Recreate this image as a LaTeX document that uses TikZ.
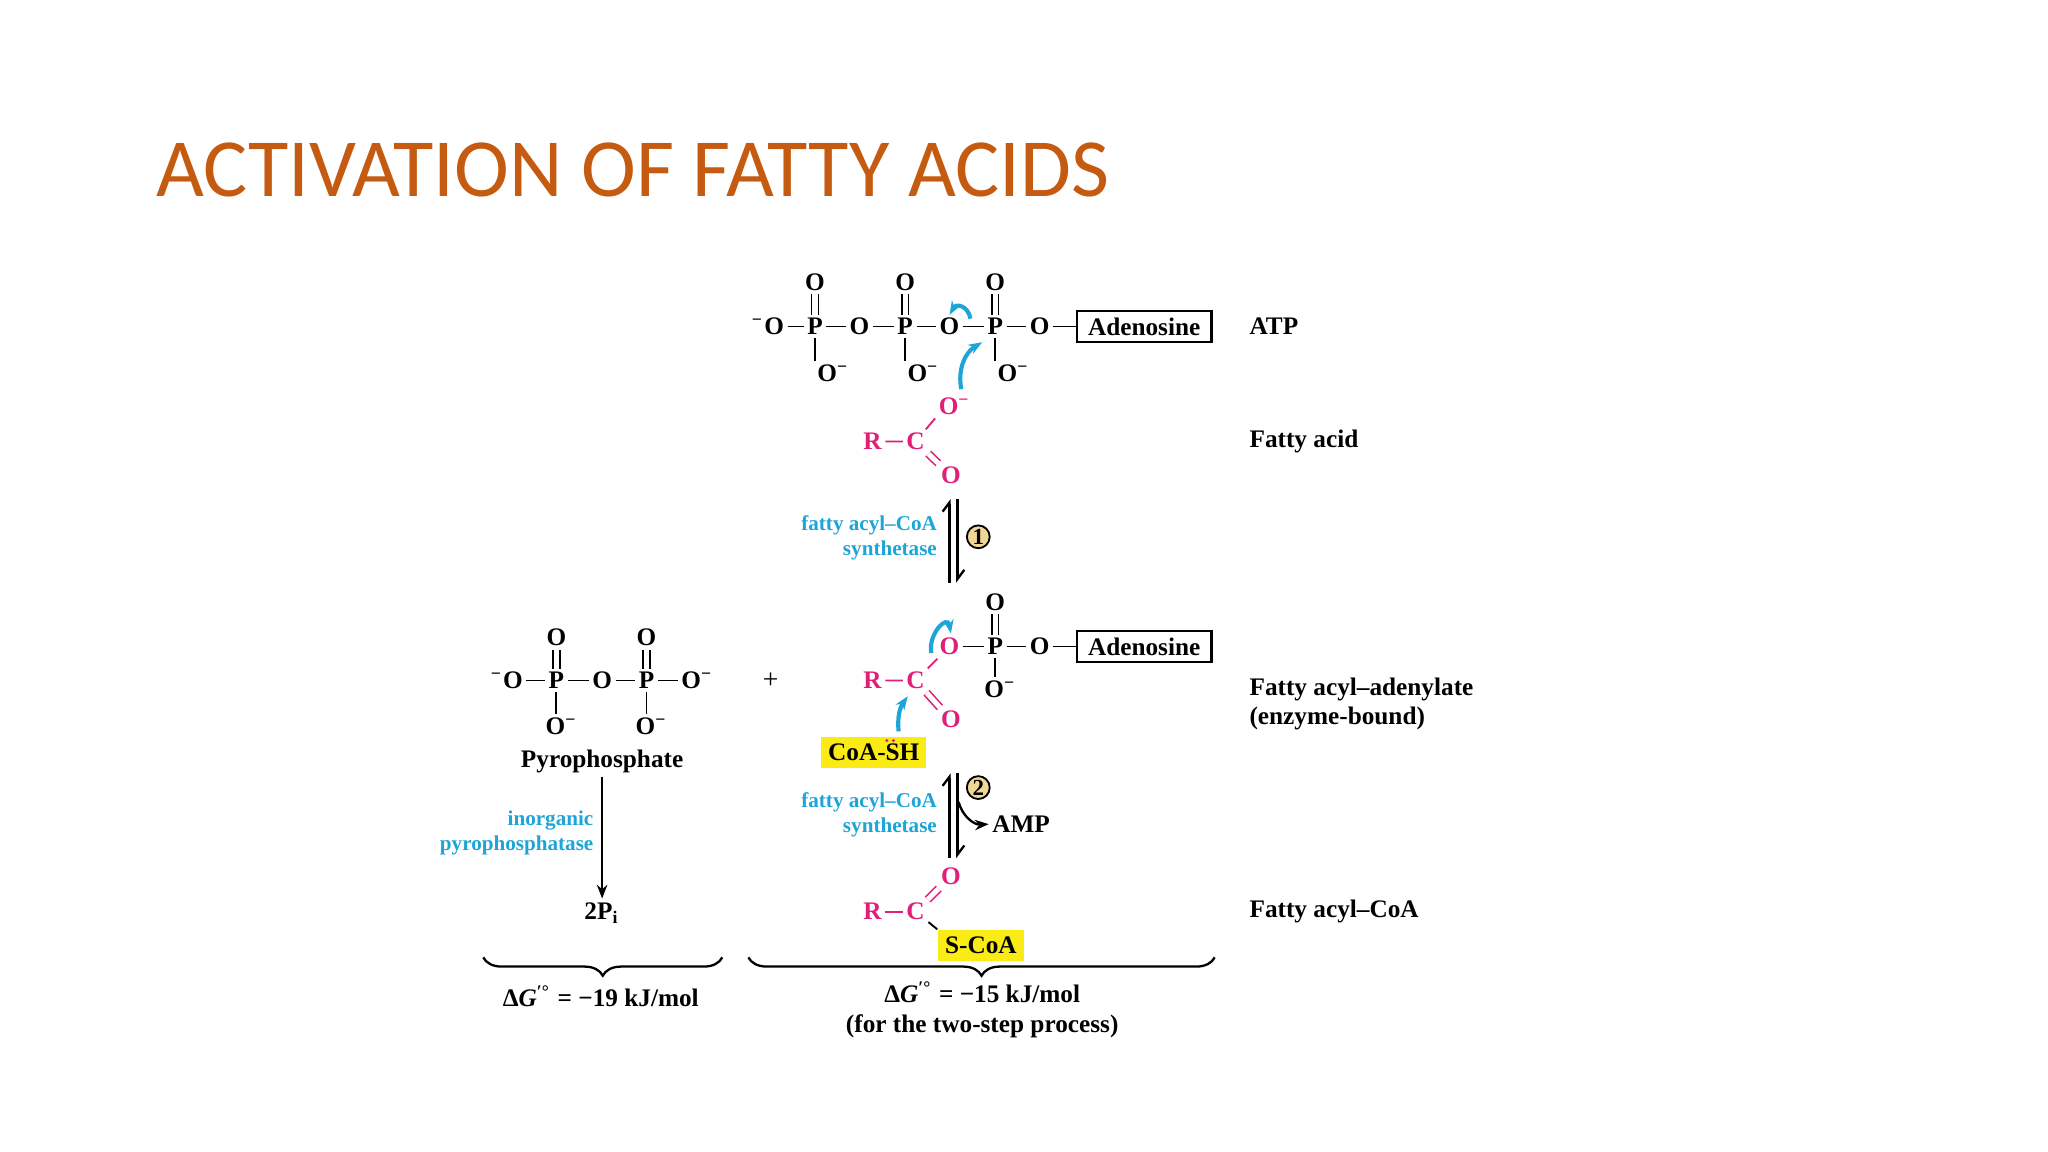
\documentclass[tikz,border=0pt]{standalone}
\usepackage{fontspec}
\setmainfont{Liberation Serif}
\newfontfamily\titlefont{Carlito}
\usetikzlibrary{decorations.pathreplacing,arrows.meta}
\definecolor{ttl}{RGB}{197,90,17}
\definecolor{pk}{RGB}{225,30,120}
\definecolor{cy}{RGB}{30,165,215}
\definecolor{yl}{RGB}{250,235,20}
\definecolor{tan}{RGB}{240,215,150}
\newcommand{\mn}{\textsuperscript{−}}
\tikzset{
 atm/.style={inner sep=0.6pt,font=\fontsize{5.5}{6.5}\bfseries\selectfont},
 pat/.style={atm,text=pk},
 lbl/.style={font=\fontsize{5.5}{6.5}\bfseries\selectfont,anchor=west,align=left,inner sep=0pt},
 enz/.style={font=\fontsize{4.6}{5.4}\bfseries\selectfont,text=cy,align=right,anchor=east,inner sep=0pt},
 bd/.style={line width=0.4pt},
 pbd/.style={line width=0.4pt,pk},
 dbl/.style={double,double distance=1.1pt,line width=0.35pt},
 carr/.style={cy,line width=0.9pt,-{Stealth[length=3pt]}},
 harp/.style={line width=0.5pt,-{Straight Barb[left,length=2pt,width=3pt]}},
 box/.style={draw,line width=0.5pt,inner sep=1.5pt,minimum width=1.03cm,font=\fontsize{5.5}{6.5}\bfseries\selectfont},
 ybox/.style={fill=yl,inner sep=1.5pt,font=\fontsize{5.5}{6.5}\bfseries\selectfont},
 circ/.style={circle,draw,fill=tan,inner sep=0.3pt,font=\fontsize{5}{6}\bfseries\selectfont}
}
\begin{document}
\begin{tikzpicture}[x=0.01cm,y=-0.01cm]
\useasboundingbox (0,0) rectangle (1568,882);
\node[anchor=west,text=ttl,font=\titlefont\fontsize{18}{21}\selectfont,inner sep=0pt] (title) at (119,130) {ACTIVATION OF FATTY ACIDS};
% ATP
\node[atm] (a0) at (588,250) {\mn O};
\node[atm] (p1) at (624,250) {P};
\node[atm] (o1) at (658,250) {O};
\node[atm] (p2) at (693,250) {P};
\node[atm] (o2) at (727,250) {O};
\node[atm] (p3) at (762,250) {P};
\node[atm] (o3) at (796,250) {O};
\node[box] (ad1) at (876,250) {Adenosine};
\foreach \p in {1,2,3}{
 \node[atm] (t\p) at (p\p |- 0,216) {O};
 \node[atm] (b\p) at ([xshift=4]p\p |- 0,286) {O\mn};
}
\draw[bd] (a0)--(p1)--(o1)--(p2)--(o2)--(p3)--(o3)--(ad1);
\foreach \p in {1,2,3}{
 \draw[dbl] (p\p)--(t\p);
 \draw[bd] (p\p)--(p\p |- b\p.north);
}
\node[lbl] (atp) at (956,250) {ATP};
% fatty acid
\node[pat] (r1) at (668,338) {R};
\node[pat] (c1) at (701,338) {C};
\node[pat] (om1) at (731,311) {O\mn};
\node[pat] (od1) at (728,364) {O};
\draw[pbd] (r1)--(c1) (c1)--(om1.south west);
\draw[pk,dbl] (c1)--(od1);
\node[lbl] (fa) at (956,338) {Fatty acid};
\draw[carr] (736,298) to[bend left=35] (752,262);
\draw[carr] (743,244) to[out=100,in=60,looseness=1.6] (727,241);
% step 1
\coordinate (s1a) at (727,382); \coordinate (s1b) at (727,446);
\coordinate (s1c) at (733,382); \coordinate (s1d) at (733,446);
\draw[harp] (s1b)--(s1a);
\draw[harp] (s1c)--(s1d);
\node[enz] (e1) at (718,412) {fatty acyl–CoA\\synthetase};
\node[circ] (n1) at (749,411) {1};
% adenylate
\node[pat] (r2) at (668,521) {R};
\node[pat] (c2) at (701,521) {C};
\node[pat] (o4) at (727,495) {O};
\node[atm] (p4) at (762,495) {P};
\node[atm] (t4) at (762,461) {O};
\node[atm] (b4) at (766,528) {O\mn};
\node[atm] (o5) at (796,495) {O};
\node[box] (ad2) at (876,495) {Adenosine};
\node[pat] (od2) at (728,551) {O};
\draw[pbd] (r2)--(c2)--(o4);
\draw[pk,dbl] (c2)--(od2);
\draw[bd] (o4)--(p4)--(o5)--(ad2);
\draw[dbl] (p4)--(t4);
\draw[bd] (p4)--(p4 |- b4.north);
\draw[carr] (713,500) to[out=100,in=100,looseness=1.8] (728,485);
\node[ybox] (coa) at (669,576) {CoA-SH};
\fill[pk] (679,567) circle (1.3) (684,567) circle (1.3);
\draw[carr] (688,560) to[bend left=20] (695,533);
\node[lbl] (fad) at (956,539) {Fatty acyl–adenylate\\(enzyme-bound)};
% pyrophosphate
\node[atm] (q0) at (388,521) {\mn O};
\node[atm] (q1) at (426,521) {P};
\node[atm] (q2) at (461,521) {O};
\node[atm] (q3) at (495,521) {P};
\node[atm] (q4) at (534,521) {O\mn};
\node[atm] (qt1) at (426,488) {O};
\node[atm] (qt3) at (495,488) {O};
\node[atm] (qb1) at (430,556) {O\mn};
\node[atm] (qb3) at (499,556) {O\mn};
\draw[bd] (q0)--(q1)--(q2)--(q3)--(q4);
\draw[dbl] (q1)--(qt1) (q3)--(qt3);
\draw[bd] (q1)--(q1 |- qb1.north) (q3)--(q3 |- qb3.north);
\node[atm] (pp) at (461,583) {Pyrophosphate};
\node[atm,font=\fontsize{6}{7}\selectfont] (plus) at (590,521) {+};
\node[atm] (pi) at (461,699) {2P\textsubscript{i}};
\draw[line width=0.5pt,-{Stealth[length=3pt]}] (pp)--(pi);
\node[enz] (e3) at (455,638) {inorganic\\pyrophosphatase};
% step 2
\coordinate (s2a) at (727,592); \coordinate (s2b) at (727,657);
\coordinate (s2c) at (733,592); \coordinate (s2d) at (733,657);
\draw[harp] (s2b)--(s2a);
\draw[harp] (s2c)--(s2d);
\node[enz] (e2) at (718,624) {fatty acyl–CoA\\synthetase};
\node[circ] (n2) at (749,603) {2};
\node[atm,anchor=west] (amp) at (757,631) {AMP};
\draw[line width=0.5pt,-{Stealth[length=3pt]}] (734,614) to[bend right=40] (amp.west);
% fatty acyl CoA
\node[pat] (o6) at (728,671) {O};
\node[pat] (r3) at (668,698) {R};
\node[pat] (c3) at (701,698) {C};
\node[ybox] (sco) at (751,724) {S-CoA};
\draw[pbd] (r3)--(c3);
\draw[pk,dbl] (c3)--(o6);
\draw[bd] (c3)--(sco.north west);
\node[lbl] (fac) at (956,698) {Fatty acyl–CoA};
% braces
\coordinate (bl1) at (370,733); \coordinate (bl2) at (553,733);
\coordinate (br1) at (573,733); \coordinate (br2) at (930,733);
\draw[decorate,decoration={brace,mirror,amplitude=4pt},line width=0.5pt] (bl1)--(bl2);
\draw[decorate,decoration={brace,mirror,amplitude=4pt},line width=0.5pt] (br1)--(br2);
\node[atm] (g1) at (460,763) {Δ\textit{G}\textsuperscript{′°} = −19 kJ/mol};
\node[atm,align=center] (g2) at (752,773) {Δ\textit{G}\textsuperscript{′°} = −15 kJ/mol\\(for the two-step process)};
\end{tikzpicture}
\end{document}
